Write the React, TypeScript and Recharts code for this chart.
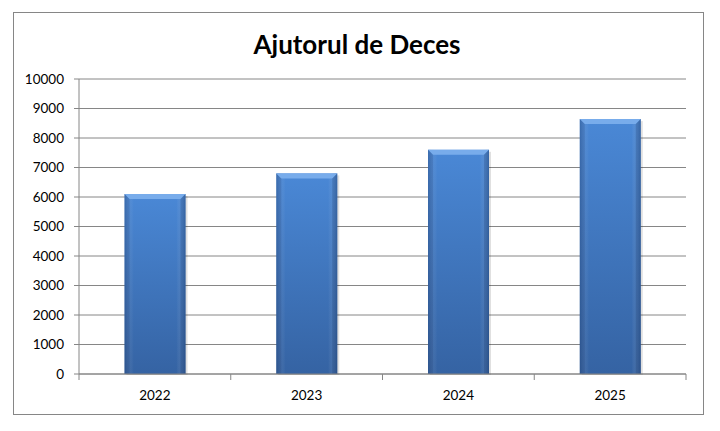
import React from 'react';
import { BarChart, Bar, XAxis, YAxis, CartesianGrid } from 'recharts';

const categories = ['2022', '2023', '2024', '2025'];
const values = [6100, 6800, 7600, 8640];
const yTicks = [0, 1000, 2000, 3000, 4000, 5000, 6000, 7000, 8000, 9000, 10000];

const data = categories.map((c, i) => ({ year: c, value: values[i] }));

const W = 720;
const H = 431;
const M = { top: 79, right: 34, bottom: 0, left: 0 };
const Y_W = 79;
const X_H = 57;
const PLOT_W = W - M.left - M.right - Y_W;
const BAND = PLOT_W / categories.length;
const GRAY = '#868686';
const FONT = 'Lato, "Liberation Sans", sans-serif';

const BarShape = (props: any) => {
  const { x, y, width, height } = props;
  if (!height || height <= 0) return null;
  const b = 5;
  return (
    <g>
      <rect x={x + 2} y={y + 2} width={width} height={height - 1} fill="rgba(0,0,0,0.12)" />
      <rect x={x} y={y} width={width} height={height} fill="url(#barV)" />
      <rect x={x} y={y} width={width} height={height} fill="url(#barH)" />
      <polygon points={`${x},${y} ${x + width},${y} ${x + width - b},${y + b} ${x + b},${y + b}`} fill="#78aceb" />
      <polygon points={`${x},${y} ${x + b},${y + b} ${x + b},${y + height} ${x},${y + height}`} fill="rgba(20,50,100,0.15)" />
      <polygon points={`${x + width},${y} ${x + width - b},${y + b} ${x + width - b},${y + height} ${x + width},${y + height}`} fill="rgba(20,50,100,0.2)" />
    </g>
  );
};

const XTick = (props: any) => {
  const { x, y, payload, index } = props;
  const last = index === categories.length - 1;
  return (
    <g>
      <line x1={x - BAND / 2} y1={y} x2={x - BAND / 2} y2={y + 6} stroke={GRAY} />
      {last && <line x1={x + BAND / 2} y1={y} x2={x + BAND / 2} y2={y + 6} stroke={GRAY} />}
      <text x={x} y={y + 26} textAnchor="middle" fontSize={13.5} fontFamily={FONT} fill="#000">
        {payload.value}
      </text>
    </g>
  );
};

export default function App() {
  return (
    <div style={{ position: 'absolute', left: 0, top: 0, width: W, height: H, background: '#fff' }}>
      <div
        style={{
          position: 'absolute',
          left: 13,
          top: 12,
          width: 689,
          height: 401,
          border: `1px solid ${GRAY}`,
        }}
      />
      <div
        style={{
          position: 'absolute',
          left: 0,
          top: 27,
          width: 714,
          textAlign: 'center',
          fontFamily: FONT,
          fontWeight: 700,
          fontSize: 26,
          lineHeight: '34px',
          color: '#000',
        }}
      >
        Ajutorul de Deces
      </div>
      <div style={{ position: 'absolute', left: 0, top: 0 }}>
        <BarChart width={W} height={H} data={data} margin={M} barCategoryGap="30%">
          <defs>
            <linearGradient id="barV" x1="0" y1="0" x2="0" y2="1">
              <stop offset="0%" stopColor="#4a88d6" />
              <stop offset="100%" stopColor="#3563a3" />
            </linearGradient>
            <linearGradient id="barH" x1="0" y1="0" x2="1" y2="0">
              <stop offset="0%" stopColor="#1c3a66" stopOpacity={0.25} />
              <stop offset="15%" stopColor="#ffffff" stopOpacity={0} />
              <stop offset="85%" stopColor="#ffffff" stopOpacity={0} />
              <stop offset="100%" stopColor="#1c3a66" stopOpacity={0.3} />
            </linearGradient>
          </defs>
          <CartesianGrid vertical={false} stroke={GRAY} strokeOpacity={1} />
          <XAxis
            dataKey="year"
            height={X_H}
            axisLine={{ stroke: GRAY }}
            tickLine={false}
            tickSize={0}
            tickMargin={0}
            tick={<XTick />}
            interval={0}
          />
          <YAxis
            width={Y_W}
            domain={[0, 10000]}
            ticks={yTicks}
            interval={0}
            axisLine={{ stroke: GRAY }}
            tickLine={{ stroke: GRAY }}
            tickSize={5}
            tickMargin={10}
            tick={{ fontSize: 13.5, fontFamily: FONT, fill: '#000' }}
          />
          <Bar dataKey="value" shape={<BarShape />} isAnimationActive={false} />
        </BarChart>
      </div>
    </div>
  );
}
